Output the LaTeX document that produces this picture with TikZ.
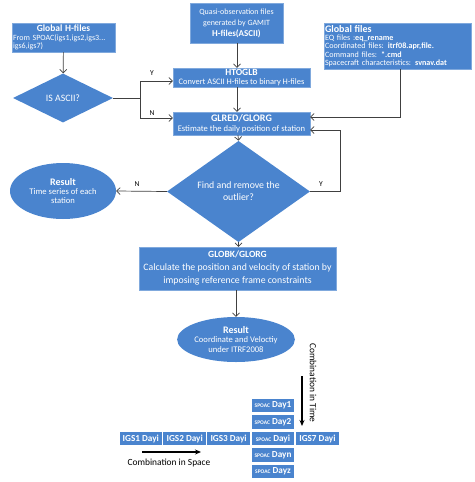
\documentclass[tikz,border=0pt]{standalone}
\usepackage{fontspec}
\setmainfont{Carlito}
\usetikzlibrary{arrows.meta,positioning,shapes.geometric}
\definecolor{flowblue}{RGB}{74,132,206}
\definecolor{linegray}{RGB}{64,64,64}
\tikzset{
  block/.style={draw=flowblue!70!white, fill=flowblue, text=white, inner sep=1.5pt,
                font=\fontsize{8.6}{9.6}\selectfont, align=center},
  decision/.style={diamond, fill=flowblue, text=white, inner sep=0pt,
                   font=\fontsize{9.8}{12}\selectfont, align=center},
  result/.style={ellipse, fill=flowblue, text=white, inner sep=0pt,
                 font=\fontsize{8.6}{9.2}\selectfont, align=center},
  cell/.style={fill=flowblue, text=white, minimum width=42.5pt, minimum height=13.5pt,
               inner sep=0pt, font=\fontsize{9.2}{10}\selectfont\bfseries},
  flow/.style={draw=linegray, line width=0.7pt, -{Straight Barb[length=3.5pt,width=7pt]}},
  link/.style={draw=linegray, line width=0.7pt},
  lbl/.style={font=\fontsize{7.5}{8}\selectfont, text=black},
  bigarrow/.style={draw=black, line width=1.4pt, -{Stealth[length=6pt,width=5pt]}}
}
\newcommand{\spoac}[1]{{\fontsize{5.5}{6}\selectfont SPOAC} #1}
\begin{document}
\begin{tikzpicture}[x=1pt,y=-1pt]
  \useasboundingbox (0,0) rectangle (474,482);

  \node[block, minimum width=103pt, minimum height=29pt, text width=101pt, align=left,
        inner sep=1pt, font=\fontsize{8}{8.6}\selectfont]
    (hglob) at (63.5,37.5)
    {\centering{\fontsize{9.5}{10}\selectfont\textbf{Global H-files}}\par
     \raggedright From SPOAC(igs1,igs2,igs3...\\igs6,igs7)};
  \node[block, minimum width=93pt, minimum height=40pt, font=\fontsize{8}{11}\selectfont]
    (quasi) at (236.5,23)
    {Quasi-observation files\\generated by GAMIT\\{\fontsize{9}{11}\selectfont\textbf{H-files(ASCII)}}};
  \node[block, minimum width=147pt, minimum height=46pt, text width=145pt, align=left,
        inner sep=1pt, font=\fontsize{8.1}{8.4}\selectfont] (gfiles) at (397.5,46)
    {{\fontsize{10}{10}\selectfont\textbf{Global files}}\\
     EQ files :\textbf{eq\_rename}\\
     Coordinated files: \textbf{itrf08.apr,file.}\\
     Command files: \textbf{*.cmd}\\
     Spacecraft characteristics: \textbf{svnav.dat}};
  \node[block, minimum width=137pt, minimum height=19pt, inner sep=0pt,
        font=\fontsize{8.4}{8.6}\selectfont] (htoglb) at (241.5,77.5)
    {{\fontsize{9.5}{9.5}\selectfont\textbf{HTOGLB}}\\Convert ASCII H-files to binary H-files};
  \node[block, minimum width=137pt, minimum height=23pt, inner sep=0pt,
        font=\fontsize{8.6}{10}\selectfont] (glred) at (241.5,123.5)
    {{\fontsize{10}{10}\selectfont\textbf{GLRED/GLORG}}\\Estimate the daily position of station};
  \node[decision, minimum width=100pt, minimum height=49pt] (ascii) at (63,98) {IS ASCII?};
  \node[decision, minimum width=143pt, minimum height=67pt] (find) at (238.5,191.5)
    {Find and remove the\\outlier?};
  \node[result, minimum width=106pt, minimum height=56pt] (series) at (63,191)
    {{\fontsize{10}{10}\selectfont\textbf{Result}}\\Time series of each\\station};
  \node[block, minimum width=197pt, minimum height=43pt,
        font=\fontsize{9.8}{13}\selectfont] (globk) at (237.5,268.5)
    {{\fontsize{9.5}{10}\selectfont\textbf{GLOBK/GLORG}}\\Calculate the position and velocity of station by\\
     imposing reference frame constraints};
  \node[result, minimum width=106pt, minimum height=45pt] (coord) at (236,339.5)
    {{\fontsize{10}{10}\selectfont\textbf{Result}}\\Coordinate and Veloctiy\\under ITRF2008};

  \coordinate (split) at (140,98);
  \draw[flow] (hglob) -- (ascii);
  \draw[link] (ascii.east) -- (split);
  \draw[flow] (split) |- ([yshift=-3.5pt]htoglb.west);
  \draw[flow] (split) |- ([yshift=5.5pt]glred.west);
  \node[lbl] at (152,73) {Y};
  \node[lbl] at (152,113) {N};
  \draw[flow] (quasi.south -| 237,0) -- (htoglb.north -| 237,0);
  \draw[flow] (htoglb.south -| 237,0) -- (glred.north -| 237,0);
  \draw[flow] (gfiles.south -| 400,0) |- ([yshift=6.5pt]glred.east);
  \draw[flow] (glred.south -| 238,0) -- (find.north);
  \draw[flow] (find.east) -- (340,191.5) |- ([yshift=-6.5pt]glred.east);
  \node[lbl] at (321,184) {Y};
  \draw[flow] (find.west) -- (series.east);
  \node[lbl] at (137,184) {N};
  \draw[flow] (find.south) -- (globk.north -| find.south);
  \draw[flow] (globk.south -| coord.north) -- (coord.north);

  \node[cell] (dayi) at (273,438.5) {\spoac{Dayi}};
  \node[cell, left=1.5pt of dayi] (igsc) {IGS3 Dayi};
  \node[cell, left=1pt of igsc] (igsb) {IGS2 Dayi};
  \node[cell, left=1pt of igsb] (igsa) {IGS1 Dayi};
  \node[cell, right=1.5pt of dayi] (igsg) {IGS7 Dayi};
  \node[cell, above=2.5pt of dayi] (dayb) {\spoac{Day2}};
  \node[cell, above=2.5pt of dayb] (daya) {\spoac{Day1}};
  \node[cell, below=2.5pt of dayi] (dayn) {\spoac{Dayn}};
  \node[cell, below=2.5pt of dayn] (dayz) {\spoac{Dayz}};

  \coordinate (timetop) at (302,376);
  \coordinate (timeend) at (302,426);
  \coordinate (spacebeg) at (142,452);
  \coordinate (spaceend) at (201,452);
  \draw[bigarrow] (timetop) -- (timeend);
  \node[rotate=-90, font=\fontsize{9.4}{10}\selectfont] (timelbl) at (313,383) {Combination in Time};
  \draw[bigarrow] (spacebeg) -- (spaceend);
  \node[font=\fontsize{9.4}{10}\selectfont] (spacelbl) at (169,463) {Combination in Space};
\end{tikzpicture}
\end{document}
